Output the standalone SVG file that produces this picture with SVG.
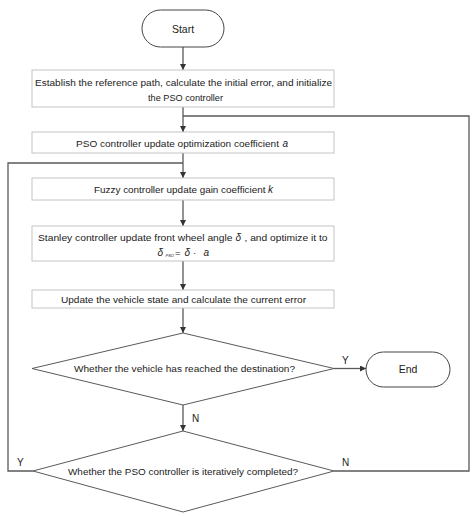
<svg xmlns="http://www.w3.org/2000/svg" width="474" height="516" viewBox="0 0 474 516">
<defs>
<marker id="arr" viewBox="0 0 6 6" refX="6" refY="3" markerWidth="6" markerHeight="6" markerUnits="userSpaceOnUse" orient="auto">
<path d="M0,0 L6,3 L0,6 z" fill="#333"/>
</marker>
</defs>
<style>
.box{fill:#fff;stroke:#c4c4c4;stroke-width:1}
.term{fill:#fff;stroke:#444;stroke-width:1}
.dia{fill:#fff;stroke:#5a5a5a;stroke-width:1}
.ln{fill:none;stroke:#5a5a5a;stroke-width:1.3}
.t{font-family:"Liberation Sans",Arial,sans-serif;font-size:10.5px;fill:#222;text-anchor:middle}
.ts{font-family:"Liberation Sans",Arial,sans-serif;font-size:9.6px;fill:#222}
.lbl{font-family:"Liberation Sans",Arial,sans-serif;font-size:10px;fill:#222}
.i{font-style:italic;font-size:10px}
.sub{font-family:"Liberation Sans",Arial,sans-serif;font-size:4px;fill:#222;font-style:italic}
</style>
<rect width="474" height="516" fill="#fff"/>
<g id="connectors">
<line class="ln" x1="183" y1="47" x2="183" y2="70" marker-end="url(#arr)"/>
<line class="ln" x1="183" y1="107" x2="183" y2="132" marker-end="url(#arr)"/>
<line class="ln" x1="183" y1="153" x2="183" y2="178" marker-end="url(#arr)"/>
<line class="ln" x1="183" y1="200" x2="183" y2="226" marker-end="url(#arr)"/>
<line class="ln" x1="183" y1="261" x2="183" y2="290" marker-end="url(#arr)"/>
<line class="ln" x1="183" y1="308" x2="183" y2="333" marker-end="url(#arr)"/>
<line class="ln" x1="334" y1="368.5" x2="366" y2="368.5" marker-end="url(#arr)"/>
<line class="ln" x1="183" y1="405" x2="183" y2="431" marker-end="url(#arr)"/>
<polyline class="ln" points="33,471 8,471 8,163 183,163"/>
<polyline class="ln" points="334,471 469,471 469,116 183,116"/>
<text class="lbl" x="342" y="364">Y</text>
<text class="lbl" x="192" y="422">N</text>
<text class="lbl" x="17" y="466">Y</text>
<text class="lbl" x="342" y="466">N</text>
</g>
<g id="start">
<rect class="term" x="142" y="10" width="82" height="37" rx="18.5"/>
<text class="t" x="183" y="32.5">Start</text>
</g>
<g id="init">
<rect class="box" x="32" y="70" width="302" height="37"/>
<text class="ts" x="35" y="86" textLength="297" lengthAdjust="spacingAndGlyphs">Establish the reference path, calculate the initial error, and initialize</text>
<text class="ts" x="148" y="101" textLength="75" lengthAdjust="spacingAndGlyphs">the PSO controller</text>
</g>
<g id="pso">
<rect class="box" x="32" y="132" width="302" height="21"/>
<text class="ts" x="76" y="146.5" textLength="203" lengthAdjust="spacingAndGlyphs">PSO controller update optimization coefficient</text>
<text class="ts i" x="282.5" y="146.5">a</text>
</g>
<g id="fuzzy">
<rect class="box" x="32" y="178" width="302" height="22"/>
<text class="ts" x="94" y="193" textLength="171.5" lengthAdjust="spacingAndGlyphs">Fuzzy controller update gain coefficient</text>
<text class="ts i" x="268" y="193">k</text>
</g>
<g id="stanley">
<rect class="box" x="32" y="226" width="302" height="35"/>
<text class="ts" x="38" y="241" textLength="194.5" lengthAdjust="spacingAndGlyphs">Stanley controller update front wheel angle</text>
<text class="ts i" x="235.5" y="241">δ</text>
<text class="ts" x="244.5" y="241" textLength="83" lengthAdjust="spacingAndGlyphs">, and optimize it to</text>
<text class="ts i" x="157.5" y="256">δ</text>
<text class="sub" x="165.5" y="257">PSO</text>
<text class="ts" x="175" y="256">=</text>
<text class="ts i" x="184.5" y="256">δ</text>
<text class="ts" x="193" y="256">·</text>
<text class="ts i" x="203.5" y="256">a</text>
</g>
<g id="update">
<rect class="box" x="32" y="290" width="302" height="18"/>
<text class="ts" x="61" y="302.8" textLength="245" lengthAdjust="spacingAndGlyphs">Update the vehicle state and calculate the current error</text>
</g>
<g id="reached">
<polygon class="dia" points="183,333 334,368.5 183,405 32,368.5"/>
<text class="ts" x="74" y="372.2" textLength="221" lengthAdjust="spacingAndGlyphs">Whether the vehicle has reached the destination?</text>
</g>
<g id="end">
<rect class="term" x="366" y="352" width="84" height="35" rx="17.5"/>
<text class="t" x="408" y="373">End</text>
</g>
<g id="iterated">
<polygon class="dia" points="183,431 334,471 183,512 33,471"/>
<text class="ts" x="68" y="474.7" textLength="230" lengthAdjust="spacingAndGlyphs">Whether the PSO controller is iteratively completed?</text>
</g>
</svg>
